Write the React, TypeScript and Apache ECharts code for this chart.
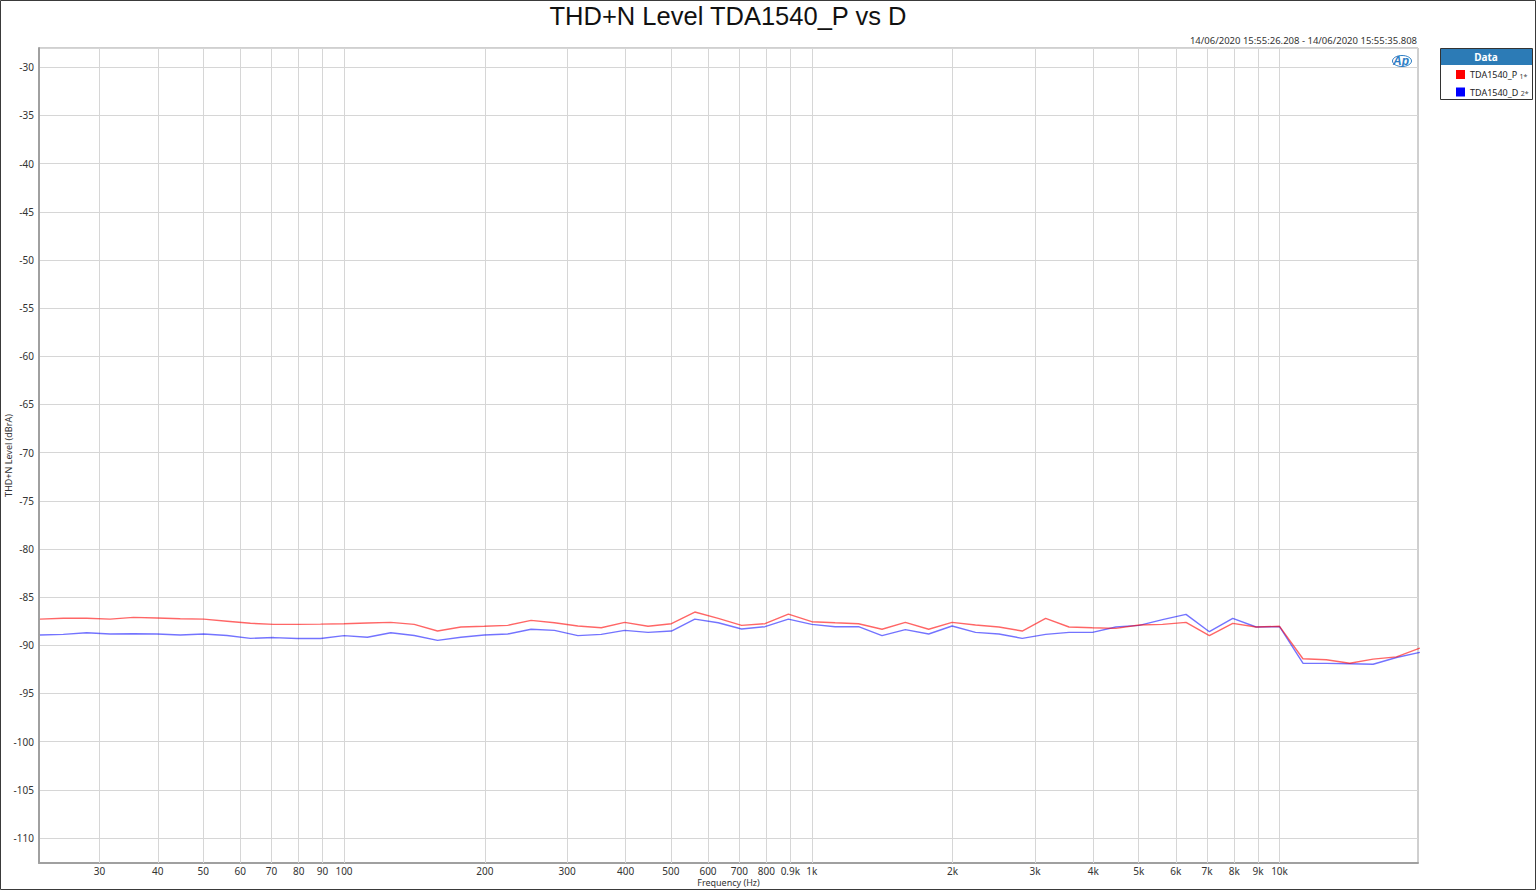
import React, { useEffect, useRef } from "react";
import * as echarts from "echarts";

// Sweep frequencies (Hz)
const freqHz = [
  22.39, 25.12, 28.18, 31.62, 35.48, 39.81, 44.67, 50.12, 56.23, 63.1,
  70.79, 79.43, 89.13, 100, 112.2, 125.9, 141.3, 158.5, 177.8, 199.5,
  223.9, 251.2, 281.8, 316.2, 354.8, 398.1, 446.7, 501.2, 562.3, 631,
  707.9, 794.3, 891.3, 1000, 1122, 1259, 1413, 1585, 1778, 1995,
  2239, 2512, 2818, 3162, 3548, 3981, 4467, 5012, 5623, 6310,
  7079, 7943, 8913, 10000, 11220, 12590, 14130, 15850, 17780, 19950,
];

// THD+N level (dBrA), TDA1540_P
const seriesP = [
  -87.28, -87.2, -87.2, -87.28, -87.1, -87.17, -87.24, -87.28, -87.5, -87.72,
  -87.83, -87.83, -87.8, -87.76, -87.69, -87.62, -87.83, -88.52, -88.1, -88.03,
  -87.93, -87.41, -87.66, -88.0, -88.18, -87.62, -88.03, -87.76, -86.55, -87.2,
  -87.93, -87.76, -86.76, -87.55, -87.66, -87.76, -88.34, -87.62, -88.34, -87.62,
  -87.9, -88.1, -88.52, -87.2, -88.1, -88.18, -88.24, -87.9, -87.83, -87.62,
  -89.0, -87.72, -88.1, -88.03, -91.4, -91.5, -91.86, -91.44, -91.2, -90.3,
];

// THD+N level (dBrA), TDA1540_D
const seriesD = [
  -88.94, -88.87, -88.7, -88.83, -88.8, -88.83, -88.94, -88.83, -88.98, -89.28,
  -89.2, -89.3, -89.3, -89.0, -89.17, -88.7, -88.98, -89.49, -89.17, -88.94,
  -88.83, -88.34, -88.45, -89.0, -88.87, -88.45, -88.66, -88.52, -87.28, -87.66,
  -88.31, -88.07, -87.28, -87.83, -88.07, -88.07, -89.0, -88.38, -88.83, -88.0,
  -88.66, -88.83, -89.28, -88.87, -88.66, -88.66, -88.1, -87.93, -87.34, -86.79,
  -88.59, -87.2, -88.1, -88.07, -91.86, -91.88, -91.92, -91.97, -91.27, -90.74,
];

// X tick positions (Hz) and their labels
const xTickHz = [
  30, 40, 50, 60, 70, 80, 90, 100, 200, 300, 400, 500, 600, 700, 800, 900,
  1000, 2000, 3000, 4000, 5000, 6000, 7000, 8000, 9000, 10000,
];
const xTickLabels = [
  "30", "40", "50", "60", "70", "80", "90", "100", "200", "300", "400", "500", "600", "700", "800", "0.9k",
  "1k", "2k", "3k", "4k", "5k", "6k", "7k", "8k", "9k", "10k",
];

const seriesNames = ["TDA1540_P", "TDA1540_D"];
const seriesTags = ["1*", "2*"];

const FONT = "'Noto Sans', 'Open Sans', sans-serif";

export default function App() {
  const ref = useRef<HTMLDivElement>(null);

  useEffect(() => {
    if (!ref.current) return;
    const chart = echarts.init(ref.current, undefined, { renderer: "svg" });
    const xTickLog = xTickHz.map((f) => Math.log10(f));
    const labelFor = (v: number) => {
      const i = xTickLog.findIndex((t) => Math.abs(t - v) < 1e-6);
      return i >= 0 ? xTickLabels[i] : "";
    };

    const option: any = {
      animation: false,
      backgroundColor: "#ffffff",
      color: ["#ff0000", "#0000ff"],
      grid: {
        left: 39,
        right: 118,
        top: 48,
        bottom: 27,
        outerBoundsMode: "none",
        containLabel: false,
        show: true,
        borderColor: "#a0a0a0",
        borderWidth: 1,
      },
      graphic: [
        {
          type: "rect",
          z: 0,
          shape: { x: 0.5, y: 0.5, width: 1535, height: 889 },
          style: { fill: "none", stroke: "#3a3a3a", lineWidth: 1 },
        },
        {
          type: "text",
          x: 728,
          y: 16,
          style: {
            text: "THD+N Level TDA1540_P vs D",
            fontFamily: "'Liberation Sans', Arial, sans-serif",
            fontSize: 25.5,
            fill: "#111",
            align: "center",
            verticalAlign: "middle",
          },
        },
        {
          type: "text",
          x: 1417,
          y: 40,
          style: {
            text: "14/06/2020 15:55:26.208 - 14/06/2020 15:55:35.808",
            fontFamily: FONT,
            fontSize: 9.5,
            fill: "#333",
            align: "right",
            verticalAlign: "middle",
          },
        },
        {
          type: "text",
          x: 1401,
          y: 61,
          style: {
            text: "Ap",
            fontFamily: "'Liberation Sans', Arial, sans-serif",
            fontSize: 12,
            fontWeight: "bold",
            fontStyle: "italic",
            fill: "#2d7dc4",
            align: "center",
            verticalAlign: "middle",
          },
        },
        {
          type: "ellipse",
          shape: { cx: 1402, cy: 61, rx: 9.5, ry: 5.5 },
          style: { fill: "none", stroke: "#2d7dc4", lineWidth: 1 },
        },
        {
          type: "rect",
          z: 1,
          shape: { x: 1440.5, y: 48.5, width: 92, height: 51 },
          style: { fill: "#ffffff", stroke: "#333", lineWidth: 1 },
        },
        {
          type: "rect",
          z: 2,
          shape: { x: 1441, y: 49, width: 91, height: 16 },
          style: { fill: "#2c7bb6" },
        },
        {
          type: "text",
          z: 3,
          x: 1486,
          y: 57,
          style: {
            text: "Data",
            fontFamily: FONT,
            fontSize: 10,
            fontWeight: "bold",
            fill: "#ffffff",
            align: "center",
            verticalAlign: "middle",
          },
        },
      ],
      legend: {
        orient: "vertical",
        left: 1456,
        top: 70,
        padding: 0,
        itemWidth: 9,
        itemHeight: 9,
        itemGap: 8,
        icon: "rect",
        z: 10,
        data: seriesNames,
        formatter: (name: string) => {
          const i = seriesNames.indexOf(name);
          return `{n|${name}} {s|${seriesTags[i]}}`;
        },
        textStyle: {
          fontFamily: FONT,
          fontSize: 9,
          color: "#222",
          rich: {
            n: { fontFamily: FONT, fontSize: 9, color: "#222" },
            s: { fontFamily: FONT, fontSize: 7, color: "#444", padding: [3, 0, 0, 0] },
          },
        },
      },
      xAxis: {
        type: "value",
        min: 1.348,
        max: 4.296,
        name: "Frequency (Hz)",
        nameLocation: "middle",
        nameGap: 15,
        nameMoveOverlap: false,
        nameTextStyle: { fontFamily: FONT, fontSize: 9, color: "#333" },
        axisLine: { show: true, lineStyle: { color: "#a0a0a0", width: 2 } },
        splitLine: { show: false },
        axisTick: {
          show: true,
          inside: true,
          length: 815,
          customValues: xTickLog,
          lineStyle: { color: "#d6d6d6", width: 1 },
        },
        axisLabel: {
          customValues: xTickLog,
          formatter: labelFor,
          fontFamily: FONT,
          fontSize: 10,
          color: "#333",
          margin: 3,
        },
      },
      yAxis: {
        type: "value",
        min: -112.6,
        max: -28,
        splitNumber: 17,
        minInterval: 5,
        maxInterval: 5,
        name: "THD+N Level (dBrA)",
        nameLocation: "middle",
        nameGap: 26,
        nameMoveOverlap: false,
        nameTextStyle: { fontFamily: FONT, fontSize: 9, color: "#333" },
        axisLine: { show: true, lineStyle: { color: "#a0a0a0", width: 2 } },
        axisTick: { show: false },
        axisLabel: {
          fontFamily: FONT,
          fontSize: 10,
          color: "#333",
          margin: 5,
          showMinLabel: false,
          showMaxLabel: false,
          formatter: (v: number) => (Math.abs(v % 5) < 1e-9 ? String(v) : ""),
        },
        splitLine: { show: true, lineStyle: { color: "#d6d6d6", width: 1 } },
      },
      series: [
        {
          name: seriesNames[0],
          type: "line",
          symbol: "none",
          showSymbol: false,
          itemStyle: { color: "#ff0000" },
          lineStyle: { color: "#ff0000", width: 1.4, opacity: 0.6 },
          data: freqHz.map((f, i) => [Math.log10(f), seriesP[i]]),
          z: 3,
        },
        {
          name: seriesNames[1],
          type: "line",
          symbol: "none",
          showSymbol: false,
          itemStyle: { color: "#0000ff" },
          lineStyle: { color: "#0000ff", width: 1.4, opacity: 0.55 },
          data: freqHz.map((f, i) => [Math.log10(f), seriesD[i]]),
          z: 2,
        },
      ],
    };

    chart.setOption(option);
    return () => chart.dispose();
  }, []);

  return (
    <div
      style={{ position: "absolute", left: 0, top: 0, width: 1536, height: 890, background: "#fff" }}
    >
      <div ref={ref} style={{ width: 1536, height: 890 }} />
    </div>
  );
}
